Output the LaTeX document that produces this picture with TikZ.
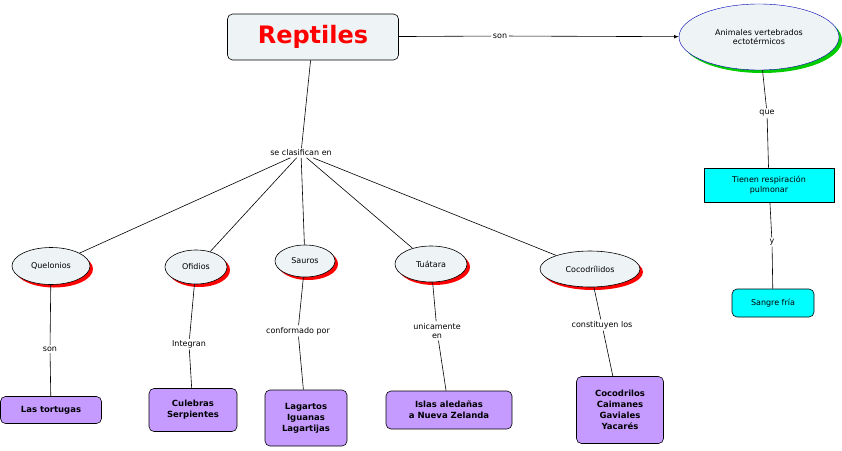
\documentclass[tikz,border=0pt]{standalone}
\usepackage{fontspec}
\setmainfont{DejaVu Sans}
\usetikzlibrary{shapes.geometric,shadows}
\definecolor{pale}{HTML}{EEF3F5}
\definecolor{lila}{HTML}{C59BFF}
\definecolor{celeste}{HTML}{00FFFF}
\tikzset{
    Line/.style={draw=black, line width=0.6pt},
    Arrow/.style={Line, arrows={-latex}},
    Label/.style={fill=white, inner sep=1.5pt, font=\fontsize{8}{9.5}\selectfont, align=center},
    Group/.style={draw=black, ellipse, fill=pale, inner sep=0pt, line width=0.6pt,
        font=\fontsize{8}{9.5}\selectfont,
        drop shadow={fill=red, opacity=1, shadow xshift=3pt, shadow yshift=-3pt}},
    Leaf/.style={draw=black, rounded corners=5pt, fill=lila, line width=0.6pt, align=center,
        font=\bfseries\fontsize{8.5}{11}\selectfont, inner sep=0pt},
    Fact/.style={draw=black, fill=celeste, line width=0.6pt, align=center,
        font=\fontsize{8}{9.5}\selectfont, inner sep=0pt}
}
\begin{document}
\begin{tikzpicture}[x=1pt, y=-1pt]
            \useasboundingbox (0,0) rectangle (842,450);
            % Main concept
            \node[draw=black, rounded corners=5pt, fill=pale, minimum width=171pt, minimum height=46pt,
                  line width=0.6pt, text=red, font=\bfseries\fontsize{24}{26}\selectfont] (reptiles) at (313,37) {Reptiles};
            \node[ellipse, draw=blue!70!black, fill=pale, minimum width=160pt, minimum height=66pt, align=center,
                  font=\fontsize{8}{9.5}\selectfont, inner sep=0pt,
                  drop shadow={fill=green!80!black, opacity=1, shadow xshift=3pt, shadow yshift=-3pt}] (animales) at (759,37) {Animales vertebrados\\ectotérmicos};
            % Linking phrases
            \node[Label] (son) at (500,36) {son};
            \node[Label] (clasif) at (301,153) {se clasifican en};
            \node[Label] (que) at (767,113) {que};
            \node[Label] (y) at (772,242) {y};
            % Groups
            \node[Group, minimum width=78pt, minimum height=37pt] (quelonios) at (51,266) {Quelonios};
            \node[Group, minimum width=62pt, minimum height=34pt] (ofidios) at (196,267) {Ofidios};
            \node[Group, minimum width=60pt, minimum height=32pt] (sauros) at (305,261) {Sauros};
            \node[Group, minimum width=72pt, minimum height=36pt] (tuatara) at (431,264) {Tuátara};
            \node[Group, minimum width=100pt, minimum height=36pt] (cocodrilidos) at (590,269) {Cocodrílidos};
            % Group labels
            \node[Label] (l1) at (50,349) {son};
            \node[Label] (l2) at (189,344) {Integran};
            \node[Label] (l3) at (298,331) {conformado por};
            \node[Label] (l4) at (437,331) {unicamente\\en};
            \node[Label] (l5) at (602,325) {constituyen los};
            % Examples
            \node[Leaf, minimum width=101pt, minimum height=27pt] (tortugas) at (51,410) {Las tortugas};
            \node[Leaf, minimum width=88pt, minimum height=43pt] (culebras) at (193,410) {Culebras\\Serpientes};
            \node[Leaf, minimum width=82pt, minimum height=56pt] (lagartos) at (306,418) {Lagartos\\Iguanas\\Lagartijas};
            \node[Leaf, minimum width=126pt, minimum height=38pt] (islas) at (449,410) {Islas aledañas\\a Nueva Zelanda};
            \node[Leaf, minimum width=87pt, minimum height=67pt] (cocodrilos) at (620,410) {Cocodrilos\\Caimanes\\Gaviales\\Yacarés};
            % Right branch
            \node[Fact, minimum width=130pt, minimum height=34pt] (respira) at (769,185) {Tienen respiración\\pulmonar};
            \node[Fact, rounded corners=5pt, minimum width=82pt, minimum height=28pt] (sangre) at (773,303) {Sangre fría};
            % Connections
            \draw[Line] (reptiles) -- (son);
            \draw[Arrow] (son) -- (animales);
            \draw[Line] (reptiles) -- (clasif);
            \foreach \g in {quelonios, ofidios, sauros, tuatara, cocodrilidos}
                \draw[Line] (clasif) -- (\g);
            \draw[Line] (quelonios) -- (l1);  \draw[Line] (l1) -- (tortugas);
            \draw[Line] (ofidios) -- (l2);    \draw[Line] (l2) -- (culebras);
            \draw[Line] (sauros) -- (l3);     \draw[Line] (l3) -- (lagartos);
            \draw[Line] (tuatara) -- (l4);    \draw[Line] (l4) -- (islas);
            \draw[Line] (cocodrilidos) -- (l5); \draw[Line] (l5) -- (cocodrilos);
            \draw[Line] (animales) -- (que);  \draw[Line] (que) -- (respira);
            \draw[Line] (respira) -- (y);     \draw[Line] (y) -- (sangre);
        \end{tikzpicture}
\end{document}
